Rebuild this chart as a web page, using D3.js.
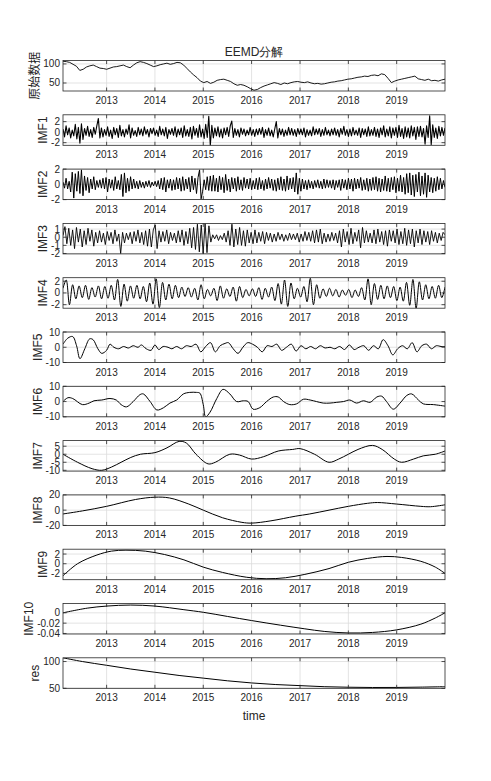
<!DOCTYPE html>
<html>
<head>
<meta charset="utf-8">
<script src="https://cdn.jsdelivr.net/npm/d3@7"></script>
<style>
  body { margin: 0; background: #fff; }
  text { font-family: "Liberation Sans", Arial, sans-serif; fill: #262626; }
</style>
</head>
<body>
<script>
"use strict";
// x runs from early Feb 2012 to end of 2019 (decimal years)
const startYear = 2012.1
const endYear = 2020.0
const tickYears = [2013, 2014, 2015, 2016, 2017, 2018, 2019]

// evenly spaced series
const rawData = [107,106,104,99,94,83,86,92,95,97,93,89,88,86,89,92,93,95,97,93,90,97,103,106,104,101,97,93,95,98,
  100,102,99,101,104,103,97,88,79,71,64,55,51,54,49,52,57,59,60,57,54,48,44,46,44,40,35,31,33,38,
  42,45,48,51,49,46,50,48,51,53,54,52,51,53,50,48,49,47,48,50,52,53,55,56,58,60,61,63,65,66,
  68,67,70,71,69,74,72,62,51,55,58,60,62,64,66,68,61,59,57,60,56,57,55,58,60]

const imf1 = [0.6,-0.9,1.2,-0.5,0.8,-1.1,0.4,-0.7,1.5,-1.3,0.9,-2.1,1.6,-1.4,0.7,-0.6,1.1,-0.8,0.5,-1.0,0.9,-0.4,1.2,2.6,-1.1,
  0.8,-0.9,0.5,-0.6,1.0,-0.8,0.4,-1.2,0.9,-0.5,0.7,-1.0,1.3,-0.7,0.5,-0.9,0.6,-0.4,1.4,-1.1,0.8,-0.6,0.3,-0.8,0.9,
  -0.5,0.6,-0.7,1.0,-0.4,0.5,-0.9,0.7,-0.3,0.8,-0.6,0.4,-0.8,1.1,-0.5,0.6,-0.7,0.9,-1.2,0.5,-0.4,0.7,-0.6,1.0,-0.9,
  0.6,-0.5,0.8,-1.0,1.2,-0.7,0.5,-0.8,0.9,-1.3,1.1,-0.6,0.7,-1.0,1.4,-0.9,0.6,-1.2,1.5,-1.0,3.0,-2.6,1.3,-1.1,0.8,
  -0.7,1.0,-0.9,0.6,-1.1,0.8,-0.5,0.9,-0.8,1.2,2.1,-1.0,0.7,-0.6,0.5,-0.9,0.8,-0.4,0.6,-0.7,0.4,-0.5,0.9,-0.6,0.5,
  -0.8,0.6,-0.5,0.7,-0.4,0.9,-1.0,0.5,-0.6,0.8,-0.7,0.4,-0.9,0.6,2.0,-1.1,0.7,-0.5,0.6,-0.8,0.4,-0.6,0.9,-0.5,0.7,
  -0.6,0.5,-0.8,0.7,-0.4,0.6,-0.5,0.8,-0.9,0.5,-0.6,0.4,-0.7,1.0,-0.5,0.6,-0.4,0.7,-0.8,0.5,-0.6,0.9,-0.5,0.4,-0.7,
  0.6,-0.5,0.8,-0.6,0.5,-0.9,0.7,-0.4,1.1,-0.6,0.5,-0.8,0.6,-0.7,0.9,-0.5,0.4,-0.6,0.8,-1.0,0.7,-0.5,0.6,-0.8,1.0,
  -0.7,0.5,-0.6,0.9,-0.8,0.6,-1.0,0.8,-0.5,1.2,-0.9,0.6,-0.7,1.0,-1.1,0.8,-0.6,0.9,-1.0,1.3,-0.8,0.7,-1.2,1.0,-0.9,
  0.8,-1.1,1.2,-0.7,0.9,-1.4,1.0,-0.8,1.1,-0.9,0.7,-2.3,1.2,-1.0,3.1,-2.4,1.4,-1.0,0.8,-1.2,1.1,-0.7,0.9,-0.6,0.8]

const imf2 = [0.3,-0.5,0.8,-0.6,0.4,-1.0,1.6,-1.8,1.4,-0.9,1.7,-1.2,1.9,-1.5,1.1,-0.8,0.9,-1.1,0.7,-0.6,1.0,-0.7,0.5,-0.4,0.6,
  -0.5,0.8,-0.6,0.9,-1.0,0.7,-0.5,0.6,-0.8,1.0,-0.6,0.5,-0.7,1.3,-1.6,1.5,-1.1,0.8,-0.9,1.0,-0.6,0.7,-0.5,0.4,-0.6,
  0.5,-0.4,0.3,-0.5,0.4,-0.3,0.5,-0.4,0.3,-0.2,0.4,-0.3,0.5,-0.6,0.8,-0.7,0.9,-1.0,0.6,-0.5,0.7,-0.8,0.6,-0.7,0.9,
  -0.6,0.8,-0.9,1.0,-0.8,0.7,-0.6,0.9,-1.0,1.1,-0.7,0.8,-1.2,0.9,1.9,-1.9,-0.9,0.6,-0.7,1.0,-0.8,1.1,-0.9,1.2,-0.9,
  0.8,-1.0,1.1,-0.7,0.9,-1.1,1.3,-0.8,0.7,-1.0,0.9,-0.6,0.8,-0.9,1.0,-0.7,0.6,-0.8,0.9,-0.5,0.7,-0.6,0.8,-0.7,0.5,
  -0.6,0.8,-0.7,0.9,-0.6,0.5,-0.8,0.7,-0.6,0.9,-0.5,0.7,-0.8,0.6,-0.9,0.8,-0.7,1.0,-0.8,0.7,-0.9,1.1,-0.7,0.8,-0.6,
  0.9,-1.0,1.5,-1.3,0.8,-0.9,0.7,-0.6,0.5,-0.7,0.6,-0.5,0.4,-0.6,0.5,-0.4,0.6,-0.5,0.4,-0.6,0.7,-0.5,0.6,-0.4,0.5,
  -0.5,0.6,-0.7,0.5,-0.4,0.6,-0.8,0.7,-0.5,0.6,-0.7,0.8,-0.6,0.7,-0.9,0.8,-0.6,0.7,-0.5,0.9,-0.8,0.6,-0.7,0.8,-0.9,
  0.7,-0.8,0.9,-0.7,1.0,-0.9,0.8,-1.0,0.7,-0.8,1.1,-0.9,0.8,-1.0,0.9,-0.7,1.0,-1.1,0.8,-0.9,1.2,-1.0,0.9,-1.3,1.4,
  -1.1,1.5,-1.4,1.2,-1.6,1.3,-1.0,1.6,-1.5,1.1,-1.3,1.5,-1.7,1.2,-1.0,0.9,-1.1,0.8,-0.9,1.0,-0.7,0.8,-0.6,0.5,-0.4]

const imf3 = [0.2,1.3,-0.8,1.1,-1.0,0.9,-1.4,1.2,-0.6,1.0,-1.2,0.8,-0.9,1.1,-0.5,0.9,-1.1,0.6,-0.7,0.8,
  -0.6,0.5,-0.9,0.7,-0.4,0.6,-0.8,0.9,-0.5,0.4,-2.0,0.6,-0.7,0.5,-0.3,0.6,-0.8,0.7,-0.5,0.9,
  -0.7,0.6,-0.9,0.8,-1.1,1.0,-1.2,0.9,1.5,-1.4,0.8,-0.6,0.7,-0.5,0.9,-0.8,0.6,-0.4,0.5,-0.7,
  0.8,-0.6,0.9,-1.0,0.7,-0.8,1.1,-1.3,1.2,-1.5,1.6,-1.8,1.5,-2.0,1.7,-1.9,1.4,-0.6,0.3,-0.2,
  0.3,-0.4,0.2,-0.3,0.5,-0.6,0.8,-1.0,1.6,-1.2,1.0,-0.9,1.2,-1.0,0.8,-1.1,0.9,-0.7,0.6,-0.8,
  0.9,-0.7,0.6,-0.5,0.7,-0.8,0.6,-0.4,0.5,-0.6,0.4,-0.5,0.6,-0.3,0.4,-0.5,0.3,-0.4,0.5,-0.3,
  0.4,-0.3,0.5,-0.6,0.4,-0.5,0.7,-0.4,0.6,-0.5,0.8,-0.7,0.9,-0.6,1.0,-0.8,0.5,-0.6,0.4,-0.5,
  0.6,-0.4,0.5,-0.7,0.8,-1.2,1.0,-0.6,0.7,-0.9,1.1,-0.8,0.6,-0.5,0.9,-1.3,1.2,-0.7,0.8,-0.6,
  0.5,-0.7,0.9,-0.8,1.0,-0.6,0.7,-0.9,0.8,-1.1,0.9,-0.5,0.8,-0.7,1.0,-0.9,0.7,-0.8,1.1,-1.0,
  0.9,-0.8,1.0,-1.2,0.8,-0.7,1.0,-0.9,0.8,-0.6,0.7,-0.9,0.8,-0.5,0.6,-0.7,0.5,-0.4,0.6,0.3]

const imf4 = [0.8,2.2,-2.0,1.4,-1.0,1.2,-0.8,1.3,-1.1,0.9,-0.7,1.2,-1.0,1.1,-0.9,1.3,-1.2,2.3,-2.3,1.5,
  -1.4,1.2,-0.9,1.3,-1.0,1.1,-1.5,1.7,-1.9,2.4,-2.5,1.8,-1.2,1.5,-1.0,1.3,-0.8,1.0,-0.6,0.9,
  -0.7,0.8,-1.2,1.4,-1.0,0.6,-0.5,0.8,-1.3,1.2,-0.9,0.7,-0.6,1.0,-1.4,1.1,-0.8,0.6,-0.5,0.7,
  -0.6,0.9,-1.1,0.8,-0.7,1.0,-1.3,1.6,-1.9,2.2,-2.3,1.7,-1.0,0.8,-0.7,1.1,-1.5,2.5,-2.0,1.4,
  -0.9,0.7,-0.6,0.8,-0.5,0.6,-0.7,0.5,-0.4,0.6,-0.8,0.5,-0.6,0.9,-1.2,2.4,-2.0,1.6,-1.1,1.3,
  -1.0,1.2,-0.8,1.1,-1.3,1.0,-1.4,1.8,-2.1,2.3,-2.6,1.9,-1.2,1.4,-1.0,1.1,-0.9,1.3,-0.8,1.0]

// smoother components as [year, value] pairs
const imf5 = [[2012.1,2],[2012.2,6],[2012.3,7],[2012.38,1],[2012.45,-7.5],[2012.55,-1],[2012.65,5.5],[2012.72,5],
  [2012.82,-1],[2012.9,-4],[2013.0,-2],[2013.07,2],[2013.15,0],[2013.25,-1],[2013.35,0.5],[2013.45,-0.5],[2013.55,1],
  [2013.65,0],[2013.72,1.5],[2013.82,-1],[2013.92,-2],[2014.0,1.5],[2014.08,-1.5],[2014.17,0.5],[2014.27,0],
  [2014.35,-1],[2014.45,0.5],[2014.55,-1],[2014.65,1],[2014.75,0.5],[2014.85,2],[2014.95,-3],[2015.05,0.5],
  [2015.15,3],[2015.25,-3],[2015.35,1],[2015.45,2.5],[2015.52,3],[2015.62,-1],[2015.72,-4],[2015.82,0],[2015.92,3],
  [2016.02,2],[2016.12,0],[2016.22,-3],[2016.32,1],[2016.42,0.5],[2016.52,2],[2016.62,-2],[2016.72,0],[2016.82,2],
  [2016.92,-2.5],[2017.02,1],[2017.12,-1],[2017.22,0.5],[2017.32,-1],[2017.42,1],[2017.52,-0.5],[2017.62,0],
  [2017.72,-1],[2017.82,0.5],[2017.92,-1.5],[2018.02,1.5],[2018.12,-1.5],[2018.22,0],[2018.32,1],[2018.42,-2],
  [2018.52,1],[2018.62,-1],[2018.72,5],[2018.82,1],[2018.92,-5],[2019.02,-1],[2019.12,1],[2019.22,-1],[2019.32,3],
  [2019.42,-3],[2019.52,1],[2019.62,2],[2019.72,-1],[2019.82,1],[2019.92,0.5],[2020.0,0.5]]

const imf6 = [[2012.1,0],[2012.2,2.5],[2012.3,2],[2012.5,-2],[2012.64,-1],[2012.74,0.5],[2012.9,1],[2013.07,2],
  [2013.2,1],[2013.3,-2],[2013.41,-3.5],[2013.55,0],[2013.69,4.5],[2013.76,5],[2013.9,0],[2014.04,-5.5],[2014.18,-4],
  [2014.31,-1],[2014.45,1],[2014.59,5],[2014.72,6],[2014.86,6],[2014.93,5.5],[2015.0,-2],[2015.05,-10],[2015.14,-7],
  [2015.28,2],[2015.41,8],[2015.55,5],[2015.69,0],[2015.83,0.5],[2015.93,0],[2016.03,-5],[2016.17,-4],[2016.31,0],
  [2016.45,3],[2016.55,3],[2016.66,0],[2016.79,-2],[2016.93,-1.5],[2017.07,1.5],[2017.21,1],[2017.34,0],
  [2017.48,-1],[2017.62,-1],[2017.76,-0.5],[2017.9,0],[2018.03,1],[2018.17,-1],[2018.31,0.5],[2018.45,-0.5],
  [2018.59,3],[2018.69,3.5],[2018.79,0],[2018.93,-5],[2019.07,-1],[2019.21,4],[2019.31,5],[2019.45,1],
  [2019.55,-1.5],[2019.76,-2],[2020.0,-3]]

const imf7 = [[2012.1,0],[2012.4,-5],[2012.7,-9],[2012.9,-10],[2013.1,-8],[2013.3,-5],[2013.5,-2],[2013.7,0],
  [2014.0,1],[2014.25,4],[2014.5,8],[2014.65,7],[2014.85,0],[2015.1,-6],[2015.25,-5],[2015.55,0],[2015.75,-0.5],
  [2016.0,-3],[2016.25,-1.5],[2016.55,2],[2016.85,3],[2017.0,3.5],[2017.3,0],[2017.6,-5],[2017.8,-3],[2018.0,0],
  [2018.2,3],[2018.5,5.5],[2018.7,3],[2018.95,-3],[2019.1,-5],[2019.35,-3],[2019.55,-1],[2019.8,0],[2020.0,2]]

const imf8 = [[2012.1,-5],[2012.5,-1],[2013.0,5],[2013.6,14],[2014.0,17],[2014.3,16],[2014.7,8],[2015.0,0],
  [2015.4,-10],[2015.8,-16],[2016.0,-17],[2016.4,-14],[2016.9,-8],[2017.2,-5],[2017.6,0],[2018.0,5],[2018.4,9],
  [2018.6,10],[2019.0,8],[2019.5,5],[2019.7,4.5],[2020.0,7]]

const imf9 = [[2012.1,-2.5],[2012.4,0],[2012.8,1.8],[2013.1,2.6],[2013.4,2.8],[2013.8,2.6],[2014.2,1.9],[2014.6,0.8],
  [2015.0,-0.7],[2015.4,-1.8],[2015.9,-2.8],[2016.3,-3.1],[2016.7,-2.9],[2017.1,-2.2],[2017.6,-1],[2018.0,0.3],
  [2018.4,1.1],[2018.8,1.5],[2019.1,1.3],[2019.5,0.5],[2019.8,-0.7],[2020.0,-2]]

const imf10 = [[2012.1,0],[2012.6,0.009],[2013.0,0.013],[2013.5,0.015],[2014.0,0.013],[2014.6,0.006],[2015.0,0.001],
  [2015.5,-0.007],[2016.0,-0.015],[2016.6,-0.024],[2017.1,-0.031],[2017.5,-0.036],[2018.0,-0.039],[2018.5,-0.038],
  [2019.0,-0.033],[2019.5,-0.022],[2019.8,-0.01],[2020.0,0]]

const residual = [[2012.1,107],[2012.5,100],[2013.0,93],[2013.5,86],[2014.0,80],[2014.5,74],[2015.0,69],[2015.5,64],
  [2016.0,60],[2016.5,57],[2017.0,55],[2017.5,53],[2018.0,52],[2018.5,51.5],[2019.0,51.6],[2019.5,52.2],[2020.0,53]]

const panelLabels = ["原始数据","IMF1","IMF2","IMF3","IMF4","IMF5","IMF6","IMF7","IMF8","IMF9","IMF10","res"]
const panelDomains = [[29,109],[-2.5,3.3],[-2,2],[-2.05,1.7],[-2.6,2.6],[-10,10],[-10,10],[-10.5,8.5],[-20,20],[-3.3,3],[-0.041,0.018],[50,107]]
const panelTicks = [[50,100],[-2,0,2],[-2,0,2],[-2,-1,0,1],[-2,0,2],[-10,0,10],[-10,0,10],[-10,-5,0,5],[-20,0,20],[-2,0,2],[-0.04,-0.02,0],[50,100]]

function yearToDate(y) {
  let yr = Math.floor(y)
  let t0 = Date.UTC(yr, 0, 1), t1 = Date.UTC(yr + 1, 0, 1)
  return new Date(t0 + (y - yr) * (t1 - t0))
}
function evenPairs(vals) {
  return vals.map((v, i) => [startYear + i * (endYear - startYear) / (vals.length - 1), v])
}

const series = [
  {pts: evenPairs(rawData), curve: d3.curveLinear, w: 0.9},
  {pts: evenPairs(imf1), curve: d3.curveLinear, w: 1.1},
  {pts: evenPairs(imf2), curve: d3.curveLinear, w: 1},
  {pts: evenPairs(imf3), curve: d3.curveLinear, w: 0.9},
  {pts: evenPairs(imf4), curve: d3.curveCatmullRom, w: 1},
  {pts: imf5, curve: d3.curveCatmullRom, w: 1},
  {pts: imf6, curve: d3.curveCatmullRom, w: 1},
  {pts: imf7, curve: d3.curveCatmullRom, w: 1},
  {pts: imf8, curve: d3.curveCatmullRom, w: 1},
  {pts: imf9, curve: d3.curveCatmullRom, w: 1},
  {pts: imf10, curve: d3.curveCatmullRom, w: 1},
  {pts: residual, curve: d3.curveCatmullRom, w: 1}
]

const m = {width: 491, height: 781, left: 63, right: 445, top: 60.5, h: 30.5, step: 54.3}
const svg = d3.select("body").append("svg")
    .attr("width", m.width)
    .attr("height", m.height)
svg.append("rect").attr("width", m.width).attr("height", m.height).attr("fill", "#fff")

const x = d3.scaleUtc()
    .domain([yearToDate(startYear), yearToDate(endYear)])
    .range([m.left, m.right])
const xTickDates = tickYears.map(y => new Date(Date.UTC(y, 0, 1)))

series.forEach(function(s, i) {
  let top = m.top + i * m.step
  let bottom = top + m.h
  let y = d3.scaleLinear().domain(panelDomains[i]).range([bottom, top])
  let g = svg.append("g")

  g.append("clipPath").attr("id", "clip" + i)
    .append("rect").attr("x", m.left).attr("y", top).attr("width", m.right - m.left).attr("height", m.h)

  // grid
  g.selectAll(".gx").data(xTickDates).enter().append("line")
      .attr("x1", d => x(d)).attr("x2", d => x(d))
      .attr("y1", top).attr("y2", bottom)
      .attr("stroke", "#dcdcdc").attr("stroke-width", 0.8)
  g.selectAll(".gy").data(panelTicks[i]).enter().append("line")
      .attr("x1", m.left).attr("x2", m.right)
      .attr("y1", d => y(d)).attr("y2", d => y(d))
      .attr("stroke", "#dcdcdc").attr("stroke-width", 0.8)

  // data line
  let line = d3.line()
      .x(d => x(yearToDate(d[0])))
      .y(d => y(d[1]))
      .curve(s.curve)
  g.append("path")
      .datum(s.pts)
      .attr("clip-path", "url(#clip" + i + ")")
      .attr("d", line)
      .attr("fill", "none")
      .attr("stroke", "#000")
      .attr("stroke-width", s.w)
      .attr("stroke-linejoin", "round")

  // box
  g.append("rect")
      .attr("x", m.left).attr("y", top)
      .attr("width", m.right - m.left).attr("height", m.h)
      .attr("fill", "none").attr("stroke", "#262626").attr("stroke-width", 0.8)

  // ticks, inward
  g.selectAll(".tx").data(xTickDates).enter().append("path")
      .attr("d", d => "M" + x(d) + "," + bottom + "v-3.5M" + x(d) + "," + top + "v3.5")
      .attr("stroke", "#262626").attr("stroke-width", 0.8)
  g.selectAll(".ty").data(panelTicks[i]).enter().append("path")
      .attr("d", d => "M" + m.left + "," + y(d) + "h3.5M" + m.right + "," + y(d) + "h-3.5")
      .attr("stroke", "#262626").attr("stroke-width", 0.8)

  // tick labels
  g.selectAll(".lx").data(xTickDates).enter().append("text")
      .attr("x", d => x(d)).attr("y", bottom + 13)
      .attr("text-anchor", "middle").attr("font-size", "10px")
      .text(d => d.getUTCFullYear())
  let ylabs = g.selectAll(".ly").data(panelTicks[i]).enter().append("text")
      .attr("x", m.left - 3).attr("y", d => y(d) + 3.5)
      .attr("text-anchor", "end").attr("font-size", "10px")
      .text(d => String(d))
  let minX = m.left
  ylabs.each(function() {
    let b = this.getBBox()
    minX = Math.min(minX, b.x)
  })

  g.append("text")
      .attr("transform", "translate(" + (minX - 4) + "," + (top + m.h / 2) + ") rotate(-90)")
      .attr("text-anchor", "middle")
      .attr("font-size", "12px")
      .style("font-family", i === 0 ? "'Noto Sans CJK SC', sans-serif" : null)
      .text(panelLabels[i])
})

svg.append("text")
    .attr("x", (m.left + m.right) / 2).attr("y", m.top - 5)
    .attr("text-anchor", "middle").attr("font-size", "12px")
    .text("EEMD分解")

svg.append("text")
    .attr("x", (m.left + m.right) / 2).attr("y", m.top + 11 * m.step + m.h + 32)
    .attr("text-anchor", "middle").attr("font-size", "12px")
    .text("time")
</script>
</body>
</html>
